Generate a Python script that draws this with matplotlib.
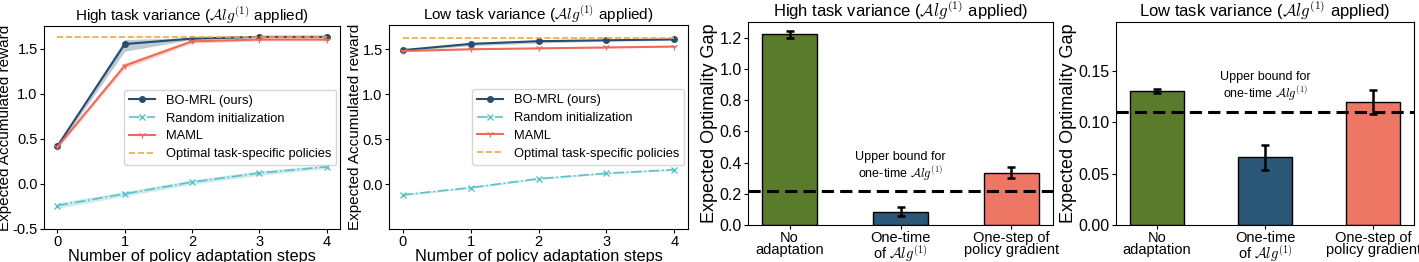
import matplotlib
matplotlib.use('Agg')
import matplotlib.pyplot as plt
import numpy as np

plt.rcParams['font.family'] = ['Liberation Sans', 'DejaVu Sans']
plt.rcParams['mathtext.fontset'] = 'cm'

# ---- data ----
steps = [0, 1, 2, 3, 4]

# high task variance
high_bo = [0.42, 1.55, 1.61, 1.63, 1.63]
high_bo_lo = [0.40, 1.47, 1.60, 1.62, 1.62]
high_bo_hi = [0.44, 1.60, 1.62, 1.64, 1.64]
high_rand = [-0.24, -0.11, 0.02, 0.12, 0.19]
high_rand_err = [0.03, 0.025, 0.025, 0.025, 0.02]
high_maml = [0.41, 1.31, 1.58, 1.60, 1.60]
high_maml_err = [0.02, 0.03, 0.02, 0.015, 0.015]
high_opt = 1.63

# low task variance
low_bo = [1.49, 1.56, 1.59, 1.60, 1.61]
low_bo_lo = [1.48, 1.54, 1.57, 1.59, 1.60]
low_bo_hi = [1.50, 1.57, 1.60, 1.61, 1.62]
low_rand = [-0.12, -0.04, 0.06, 0.12, 0.16]
low_rand_err = [0.01, 0.01, 0.01, 0.01, 0.01]
low_maml = [1.48, 1.50, 1.51, 1.52, 1.53]
low_maml_err = [0.005, 0.005, 0.005, 0.005, 0.005]
low_opt = 1.63

bar_labels = ['No\nadaptation', 'One-time\nof $\\mathcal{A}lg^{(1)}$', 'One-step of\npolicy gradient']
high_gap = [1.22, 0.085, 0.335]
high_gap_err = [0.02, 0.03, 0.035]
high_bound = 0.22
low_gap = [0.131, 0.066, 0.120]
low_gap_err = [0.002, 0.012, 0.012]
low_bound = 0.11

c_bo = '#264d6e'
c_rand = '#5bc2c9'
c_maml = '#ee6b5a'
c_opt = '#f4a541'
bar_colors = ['#5a7a2c', '#2b5878', '#ee7664']

W, H = 1419, 262
fig = plt.figure(figsize=(W / 100, H / 100), dpi=100)


def px_axes(left, right, top, bottom):
    return fig.add_axes([left / W, (H - bottom) / H, (right - left) / W, (bottom - top) / H])


def line_panel(ax, bo, bo_lo, bo_hi, rnd, rnd_err, maml, maml_err, opt, title, ylim):
    x = np.array(steps)
    rnd = np.array(rnd)
    maml = np.array(maml)
    ax.fill_between(x, bo_lo, bo_hi, color=c_bo, alpha=0.3, lw=0)
    ax.fill_between(x, rnd - np.array(rnd_err), rnd + np.array(rnd_err), color=c_rand, alpha=0.3, lw=0)
    ax.fill_between(x, maml - np.array(maml_err), maml + np.array(maml_err), color=c_maml, alpha=0.3, lw=0)
    ax.plot(x, bo, '-o', color=c_bo, ms=4, lw=1.5, label='BO-MRL (ours)')
    ax.plot(x, rnd, '-.x', color=c_rand, ms=4, lw=1.2, label='Random initialization')
    ax.plot(x, maml, '-1', color=c_maml, ms=5, lw=1.5, label='MAML')
    ax.plot(x, [opt] * len(x), '--', color=c_opt, lw=1.2, label='Optimal task-specific policies')
    ax.set_ylim(*ylim)
    ax.set_xticks(steps)
    ax.set_yticks([-0.5, 0.0, 0.5, 1.0, 1.5])
    ax.set_yticklabels(['-0.5', '0.0', '0.5', '1.0', '1.5'])
    ax.tick_params(labelsize=10.5, length=3, pad=1.5)
    ax.set_title(title, fontsize=11, pad=3)
    ax.set_xlabel('Number of policy adaptation steps', fontsize=11.8, labelpad=0)
    ax.set_ylabel('Expected Accumulated reward', fontsize=11, labelpad=0.5)
    ax.legend(loc='center right', fontsize=9.3, handlelength=2.0, labelspacing=0.45,
              borderaxespad=0.3)


def bar_panel(ax, vals, errs, bound, title, ylim, yticks, fmt, text_y):
    x = np.arange(len(vals))
    ax.bar(x, vals, width=0.5, color=bar_colors, edgecolor='black', lw=1,
           yerr=errs, capsize=3, error_kw=dict(lw=1.8, capthick=1.8))
    ax.axhline(bound, color='black', ls='--', lw=2.2, dashes=(4, 2))
    ax.text(1, text_y, 'Upper bound for\none-time $\\mathcal{A}lg^{(1)}$', ha='center', va='bottom',
            fontsize=9, linespacing=1.05)
    ax.set_xticks(x)
    ax.set_xticklabels(bar_labels, fontsize=10.5, linespacing=0.88)
    ax.set_ylim(*ylim)
    ax.set_yticks(yticks)
    ax.set_yticklabels([fmt.format(v) for v in yticks])
    ax.tick_params(axis='y', labelsize=11.5, length=3, pad=1.5)
    ax.tick_params(axis='x', length=3, pad=1)
    ax.set_title(title, fontsize=12, pad=1.5)
    ax.set_ylabel('Expected Optimality Gap', fontsize=13, labelpad=1)


title_high = 'High task variance ($\\mathcal{A}lg^{(1)}$ applied)'
title_low = 'Low task variance ($\\mathcal{A}lg^{(1)}$ applied)'

ax1 = px_axes(44, 340, 26, 229)
line_panel(ax1, high_bo, high_bo_lo, high_bo_hi, high_rand, high_rand_err,
           high_maml, high_maml_err, high_opt, title_high, (-0.5, 1.75))

ax2 = px_axes(389, 688, 25, 229)
line_panel(ax2, low_bo, low_bo_lo, low_bo_hi, low_rand, low_rand_err,
           low_maml, low_maml_err, low_opt, title_low, (-0.245, 1.77))
ax2.set_yticks([0.0, 0.5, 1.0, 1.5])
ax2.set_yticklabels(['0.0', '0.5', '1.0', '1.5'])

ax3 = px_axes(748, 1053, 22, 225)
bar_panel(ax3, high_gap, high_gap_err, high_bound, title_high, (0, 1.30),
          [0.0, 0.2, 0.4, 0.6, 0.8, 1.0, 1.2], '{:.1f}', 0.27)

ax4 = px_axes(1116, 1414, 22, 225)
bar_panel(ax4, low_gap, low_gap_err, low_bound, title_low, (0, 0.198),
          [0.0, 0.05, 0.10, 0.15], '{:.2f}', 0.119)

fig.savefig('out.png', dpi=100)
plt.close()
